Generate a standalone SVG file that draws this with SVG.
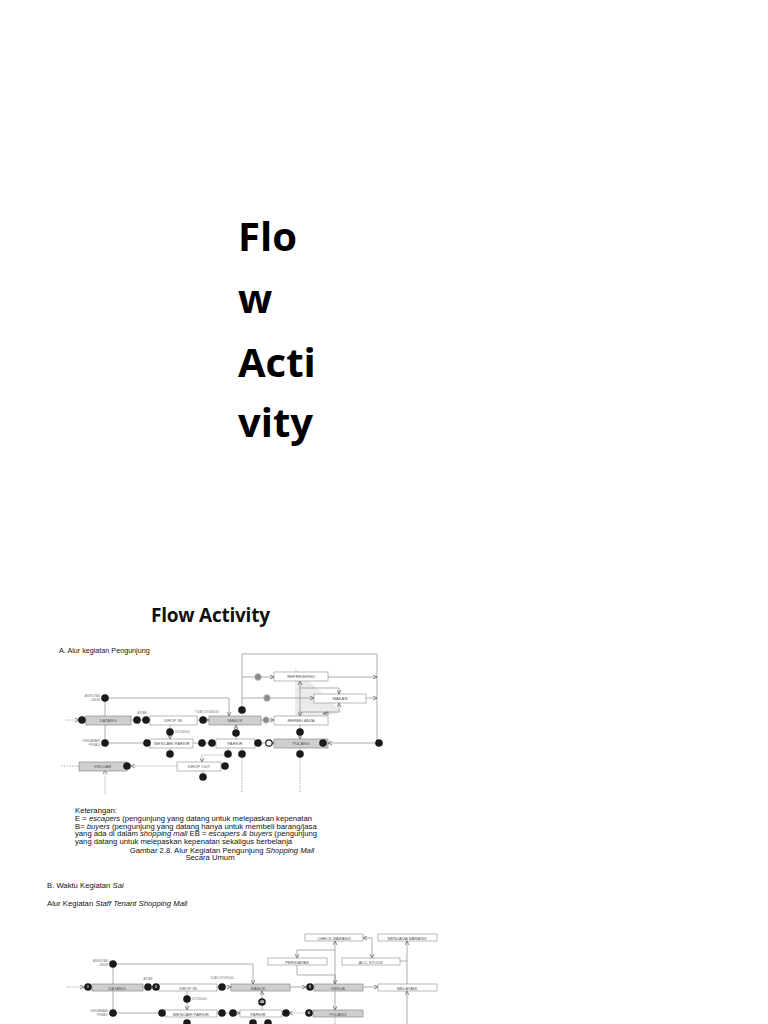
<svg xmlns="http://www.w3.org/2000/svg" width="768" height="1024" viewBox="0 0 768 1024">
<style>
.big{font-family:"Open Sans","Noto Sans",sans-serif;font-weight:bold;font-size:40px;fill:#000}
.h{font-family:"Open Sans","Noto Sans",sans-serif;font-weight:bold;font-size:19px;fill:#111}
.t{font-family:"Liberation Sans",Arial,sans-serif;font-size:7.7px;fill:#111}
.bl{font-family:"Liberation Sans",Arial,sans-serif;font-size:4.2px;fill:#555;text-anchor:middle}
.sl{font-family:"Liberation Sans",Arial,sans-serif;font-size:2.8px;fill:#777}
.cn{font-family:"Liberation Sans",Arial,sans-serif;font-size:3.2px;fill:#fff;text-anchor:middle;font-weight:bold}
.g{fill:#cfcfcf;stroke:#8a8a8a;stroke-width:0.7}
.w{fill:#fff;stroke:#9a9a9a;stroke-width:0.7}
.d{fill:#1a1a1a}
.gc{fill:#8a8a8a;stroke:#c8c8c8;stroke-width:0.8}
.oc{fill:#fff;stroke:#1a1a1a;stroke-width:1.2}
.ln{fill:none;stroke:#8a8a8a;stroke-width:0.7}
.ds{fill:none;stroke:#8a8a8a;stroke-width:0.7;stroke-dasharray:1.5 1.2}
</style>
<defs>
<marker id="ah" markerWidth="5" markerHeight="5" refX="4" refY="2.5" orient="auto" markerUnits="userSpaceOnUse">
<path d="M0,0.5 L4,2.5 L0,4.5" fill="none" stroke="#555" stroke-width="0.7"/>
</marker>
</defs>
<rect width="768" height="1024" fill="#fff"/>

<g id="title-vertical">
<text class="big" x="238" y="251">Flo</text>
<text class="big" x="238" y="313">w</text>
<text class="big" x="238" y="377">Acti</text>
<text class="big" x="238" y="437">vity</text>
</g>

<g id="heading">
<text class="h" x="151" y="622" textLength="119">Flow Activity</text>
<text class="t" x="59" y="653" style="font-size:7.2px">A. Alur kegiatan Pengunjung</text>
</g>

<!-- Diagram 1 -->
<g id="d1-connectors">
<polygon points="295,668 295,724 342,712" fill="#e6e6e6" opacity="0.8"/>
<polyline class="ln" points="242,710 242,654 377,654 377,743"/>
<line class="ln" x1="242" y1="677" x2="256" y2="677"/>
<line class="ln" x1="261" y1="677" x2="274" y2="677" marker-end="url(#ah)"/>
<line class="ln" x1="328" y1="677" x2="377" y2="677" marker-end="url(#ah)"/>
<line class="ln" x1="242" y1="698" x2="264" y2="698"/>
<line class="ln" x1="270" y1="698" x2="314" y2="698" marker-end="url(#ah)"/>
<line class="ln" x1="366" y1="698" x2="377" y2="698" marker-end="url(#ah)"/>
<line class="ln" x1="300" y1="688" x2="300" y2="681" marker-end="url(#ah)"/>
<polyline class="ln" points="300,688 339,688 339,694" marker-end="url(#ah)"/>
<polyline class="ln" points="300,712 339,712 339,703" marker-end="url(#ah)"/>
<line class="ln" x1="300" y1="688" x2="300" y2="716" marker-end="url(#ah)"/>
<polyline class="ln" points="105,698 229,698 229,716" marker-end="url(#ah)"/>
<line class="ln" x1="105" y1="698" x2="105" y2="743"/>
<line class="ds" x1="66" y1="720" x2="79" y2="720" marker-end="url(#ah)"/>
<line class="ln" x1="131" y1="720" x2="135" y2="720"/>
<line class="ln" x1="140" y1="720" x2="143" y2="720"/>
<line class="ln" x1="148" y1="720" x2="150" y2="720"/>
<line class="ln" x1="197" y1="720" x2="200" y2="720"/>
<line class="ln" x1="206" y1="720" x2="209" y2="720" marker-end="url(#ah)"/>
<line class="ln" x1="261" y1="720" x2="264" y2="720"/>
<line class="ln" x1="269" y1="720" x2="274" y2="720" marker-end="url(#ah)"/>
<line class="ln" x1="170" y1="725" x2="170" y2="729"/>
<line class="ln" x1="170" y1="735" x2="170" y2="739" marker-end="url(#ah)"/>
<line class="ln" x1="108" y1="743" x2="144" y2="743"/>
<line class="ln" x1="193" y1="743" x2="199" y2="743"/>
<line class="ln" x1="205" y1="743" x2="209" y2="743"/>
<line class="ln" x1="215" y1="743" x2="216" y2="743"/>
<line class="ln" x1="255" y1="743" x2="256" y2="743"/>
<line class="ln" x1="261" y1="743" x2="266" y2="743"/>
<line class="ln" x1="271" y1="743" x2="274" y2="743" marker-end="url(#ah)"/>
<line class="ln" x1="236" y1="730" x2="236" y2="725" marker-end="url(#ah)"/>
<line class="ln" x1="236" y1="736" x2="236" y2="739"/>
<line class="ln" x1="300" y1="725" x2="300" y2="729"/>
<line class="ln" x1="300" y1="735" x2="300" y2="739" marker-end="url(#ah)"/>
<line class="ln" x1="376" y1="743" x2="328" y2="743" marker-end="url(#ah)"/>
<line class="ln" x1="170" y1="748" x2="170" y2="751"/>
<polyline class="ds" points="225,755 202,755 202,762" marker-end="url(#ah)"/>
<line class="ln" x1="228" y1="748" x2="228" y2="751"/>
<line class="ln" x1="242" y1="748" x2="242" y2="751"/>
<line class="ds" x1="242" y1="758" x2="242" y2="792"/>
<line class="ds" x1="300" y1="748" x2="300" y2="751"/>
<line class="ds" x1="300" y1="758" x2="300" y2="792"/>
<line class="ds" x1="177" y1="766" x2="131" y2="766" marker-end="url(#ah)"/>
<line class="ds" x1="79" y1="766" x2="60" y2="766"/>
<line class="ds" x1="105" y1="794" x2="105" y2="770" marker-end="url(#ah)"/>
<line class="ln" x1="203" y1="770" x2="203" y2="774"/>
</g>

<g id="d1-nodes">
<g id="n-refreshing"><rect class="w" x="274" y="672" width="54" height="9"/><text class="bl" x="301" y="678">REFRESHING</text></g>
<g id="n-makan"><rect class="w" x="314" y="694" width="52" height="9"/><text class="bl" x="340" y="700">MAKAN</text></g>
<g id="n-datang"><rect class="g" x="86" y="716" width="45" height="9"/><text class="bl" x="108" y="722">DATANG</text></g>
<g id="n-dropin"><rect class="w" x="150" y="716" width="47" height="9"/><text class="bl" x="173" y="722">DROP IN</text></g>
<g id="n-masuk"><rect class="g" x="209" y="716" width="52" height="9"/><text class="bl" x="235" y="722">MASUK</text></g>
<g id="n-berbelanja"><rect class="w" x="274" y="716" width="54" height="9"/><text class="bl" x="301" y="722">BERBELANJA</text></g>
<g id="n-mencari"><rect class="w" x="150" y="739" width="43" height="9"/><text class="bl" x="172" y="745">MENCARI PARKIR</text></g>
<g id="n-parkir"><rect class="w" x="216" y="739" width="39" height="9"/><text class="bl" x="235" y="745">PARKIR</text></g>
<g id="n-pulang"><rect class="g" x="274" y="739" width="54" height="9"/><text class="bl" x="301" y="745">PULANG</text></g>
<g id="n-keluar"><rect class="g" x="79" y="762" width="48" height="9"/><text class="bl" x="103" y="768">KELUAR</text></g>
<g id="n-dropout"><rect class="w" x="177" y="762" width="44" height="9"/><text class="bl" x="199" y="768">DROP OUT</text></g>

<g id="d1-circles">
<circle class="gc" cx="258" cy="677" r="3.4"/>
<circle class="gc" cx="267" cy="698" r="3.4"/>
<circle class="gc" cx="266" cy="720" r="3.2"/>
<circle class="d" cx="242" cy="710" r="3.8"/>
<circle class="d" cx="82" cy="720" r="3.8"/>
<circle class="d" cx="105" cy="698" r="3.8"/>
<circle class="d" cx="137" cy="720" r="3.8"/>
<circle class="d" cx="146" cy="720" r="3.8"/>
<circle class="d" cx="203" cy="720" r="3.8"/>
<circle class="d" cx="170" cy="732" r="3.8"/>
<circle class="d" cx="236" cy="733" r="3.8"/>
<circle class="d" cx="300" cy="732" r="3.8"/>
<circle class="d" cx="105" cy="743" r="3.8"/>
<circle class="d" cx="147" cy="743" r="3.8"/>
<circle class="d" cx="202" cy="743" r="3.8"/>
<circle class="d" cx="212" cy="743" r="3.8"/>
<circle class="d" cx="258" cy="743" r="3.8"/>
<circle class="oc" cx="269" cy="743" r="3.2"/>
<circle class="d" cx="323" cy="743" r="3.8"/>
<circle class="d" cx="379" cy="743" r="3.8"/>
<circle class="d" cx="170" cy="754" r="3.8"/>
<circle class="d" cx="228" cy="754" r="3.8"/>
<circle class="d" cx="242" cy="754" r="3.8"/>
<circle class="d" cx="300" cy="754" r="3.8"/>
<circle class="d" cx="127" cy="766" r="3.8"/>
<circle class="d" cx="225" cy="766" r="3.8"/>
<circle class="d" cx="203" cy="777" r="3.8"/>
</g>
<g id="d1-labels">
<text class="sl" x="100" y="697" text-anchor="end">ANGKUTAN</text>
<text class="sl" x="100" y="701" text-anchor="end">UMUM</text>
<text class="sl" x="142" y="714" text-anchor="middle">ANTAR</text>
<text class="sl" x="207" y="713" text-anchor="middle">TIDAK DITUNGGU</text>
<text class="sl" x="175" y="733">DITUNGGU</text>
<text class="sl" x="100" y="742" text-anchor="end">KENDARAAN</text>
<text class="sl" x="100" y="746" text-anchor="end">PRIBADI</text>
<text x="323" y="715" font-family="Liberation Sans,Arial,sans-serif" font-size="5" font-style="italic" fill="#333">eb</text>
</g>
</g>

<g id="keterangan">
<text class="t" x="75" y="813">Keterangan:</text>
<text class="t" x="75" y="821">E = <tspan font-style="italic">escapers</tspan> (pengunjung yang datang untuk melepaskan kepenatan</text>
<text class="t" x="75" y="828.5">B= <tspan font-style="italic">buyers</tspan> (pengunjung yang datang hanya untuk membeli barang/jasa</text>
<text class="t" x="75" y="836">yang ada di dalam <tspan font-style="italic">shopping mall</tspan> EB = <tspan font-style="italic">escapers &amp; buyers</tspan> (pengunjung</text>
<text class="t" x="75" y="844">yang datang untuk melepaskan kepenatan sekaligus berbelanja</text>
<text class="t" x="222" y="853" text-anchor="middle">Gambar 2.8. Alur Kegiatan Pengunjung <tspan font-style="italic">Shopping Mall</tspan></text>
<text class="t" x="210" y="860" text-anchor="middle">Secara Umum</text>
<text class="t" x="47" y="888">B. Waktu Kegiatan <tspan font-style="italic">Sai</tspan></text>
<text class="t" x="47" y="906">Alur Kegiatan <tspan font-style="italic">Staff Tenant Shopping Mall</tspan></text>
</g>

<!-- Diagram 2 -->
<g id="d2-connectors">
<line class="ds" x1="66" y1="987" x2="84" y2="987" marker-end="url(#ah)"/>
<line class="ln" x1="143" y1="987" x2="145" y2="987"/>
<line class="ln" x1="151" y1="987" x2="153" y2="987"/>
<line class="ln" x1="217" y1="987" x2="219" y2="987"/>
<line class="ln" x1="225" y1="987" x2="231" y2="987" marker-end="url(#ah)"/>
<polyline class="ln" points="113,964 253,964 253,984" marker-end="url(#ah)"/>
<line class="ln" x1="113" y1="964" x2="113" y2="1013"/>
<line class="ln" x1="116" y1="1013" x2="159" y2="1013"/>
<line class="ln" x1="187" y1="991" x2="187" y2="996"/>
<line class="ln" x1="187" y1="1002" x2="187" y2="1010" marker-end="url(#ah)"/>
<line class="ln" x1="217" y1="1013" x2="219" y2="1013"/>
<line class="ln" x1="225" y1="1013" x2="230" y2="1013"/>
<line class="ln" x1="236" y1="1013" x2="240" y2="1013" marker-end="url(#ah)"/>
<line class="ln" x1="262" y1="999" x2="262" y2="991" marker-end="url(#ah)"/>
<line class="ln" x1="262" y1="1005" x2="262" y2="1010"/>
<line class="ln" x1="290" y1="987" x2="306" y2="987" marker-end="url(#ah)"/>
<line class="ln" x1="363" y1="987" x2="378" y2="987" marker-end="url(#ah)"/>
<line class="ln" x1="335" y1="984" x2="335" y2="941" marker-end="url(#ah)"/>
<polyline class="ln" points="335,950 297,950 297,958" marker-end="url(#ah)"/>
<polyline class="ln" points="297,965 297,975 335,975 335,984" marker-end="url(#ah)"/>
<line class="ln" x1="372" y1="938" x2="363" y2="938" marker-end="url(#ah)"/>
<line class="ln" x1="372" y1="938" x2="372" y2="958" marker-end="url(#ah)"/>
<line class="ln" x1="400" y1="961" x2="407" y2="961"/>
<line class="ln" x1="407" y1="984" x2="407" y2="941" marker-end="url(#ah)"/>
<line class="ln" x1="407" y1="1024" x2="407" y2="991" marker-end="url(#ah)"/>
<line class="ln" x1="335" y1="991" x2="335" y2="1010" marker-end="url(#ah)"/>
<line class="ds" x1="306" y1="1013" x2="289" y2="1013" marker-end="url(#ah)"/>
<line class="ds" x1="335" y1="1017" x2="335" y2="1024"/>
</g>

<g id="d2-nodes">
<g id="m-check"><rect class="w" x="305" y="934" width="58" height="7"/><text class="bl" x="334" y="939.5">CHECK BARANG</text></g>
<g id="m-menjaga"><rect class="w" x="378" y="934" width="59" height="7"/><text class="bl" x="407" y="939.5">MENJAGA BARANG</text></g>
<g id="m-persiapan"><rect class="w" x="268" y="958" width="59" height="7"/><text class="bl" x="297" y="963.5">PERSIAPAN</text></g>
<g id="m-acc"><rect class="w" x="342" y="958" width="58" height="7"/><text class="bl" x="371" y="963.5">ACC STOCK</text></g>
<g id="m-datang"><rect class="g" x="92" y="984" width="51" height="7"/><text class="bl" x="117" y="989.5">DATANG</text></g>
<g id="m-dropin"><rect class="w" x="159" y="984" width="58" height="7"/><text class="bl" x="188" y="989.5">DROP IN</text></g>
<g id="m-masuk"><rect class="g" x="231" y="984" width="59" height="7"/><text class="bl" x="258" y="989.5">MASUK</text></g>
<g id="m-kerja"><rect class="g" x="314" y="984" width="49" height="7"/><text class="bl" x="338" y="989.5">KERJA</text></g>
<g id="m-melayani"><rect class="w" x="378" y="984" width="59" height="7"/><text class="bl" x="407" y="989.5">MELAYANI</text></g>
<g id="m-mencari"><rect class="w" x="165" y="1010" width="52" height="7"/><text class="bl" x="191" y="1015.5">MENCARI PARKIR</text></g>
<g id="m-parkir"><rect class="w" x="240" y="1010" width="42" height="7"/><text class="bl" x="258" y="1015.5">PARKIR</text></g>
<g id="m-pulang"><rect class="g" x="313" y="1010" width="50" height="7"/><text class="bl" x="338" y="1015.5">PULANG</text></g>
<g id="d2-circles">
<circle class="d" cx="88" cy="987" r="3.8"/><text class="cn" x="88" y="988.2">1</text>
<circle class="d" cx="113" cy="964" r="3.8"/>
<circle class="d" cx="113" cy="1013" r="3.8"/>
<circle class="d" cx="148" cy="987" r="3.8"/>
<circle class="d" cx="156" cy="987" r="3.8"/><text class="cn" x="156" y="988.2">2</text>
<circle class="d" cx="222" cy="987" r="3.8"/>
<circle class="d" cx="187" cy="999" r="3.8"/>
<circle class="d" cx="162" cy="1013" r="3.8"/>
<circle class="d" cx="222" cy="1013" r="3.8"/>
<circle class="d" cx="233" cy="1013" r="3.8"/>
<circle class="d" cx="262" cy="1002" r="3.8"/><text class="cn" x="262" y="1003.2">4A</text>
<circle class="d" cx="310" cy="987" r="3.8"/><text class="cn" x="310" y="988.2">5</text>
<circle class="d" cx="286" cy="1013" r="3.8"/>
<circle class="d" cx="309" cy="1013" r="3.8"/><text class="cn" x="309" y="1014.2">6</text>
<circle class="d" cx="187" cy="1023" r="3.8"/>
<circle class="d" cx="253" cy="1023" r="3.8"/>
<circle class="d" cx="268" cy="1023" r="3.8"/>
</g>
<g id="d2-labels">
<text class="sl" x="108" y="962" text-anchor="end">ANGKUTAN</text>
<text class="sl" x="108" y="966" text-anchor="end">UMUM</text>
<text class="sl" x="148" y="980" text-anchor="middle">ANTAR</text>
<text class="sl" x="222" y="979" text-anchor="middle">TIDAK DITUNGGU</text>
<text class="sl" x="192" y="1000">DITUNGGU</text>
<text class="sl" x="108" y="1012" text-anchor="end">KENDARAAN</text>
<text class="sl" x="108" y="1016" text-anchor="end">PRIBADI</text>
</g>
</g>
</svg>
